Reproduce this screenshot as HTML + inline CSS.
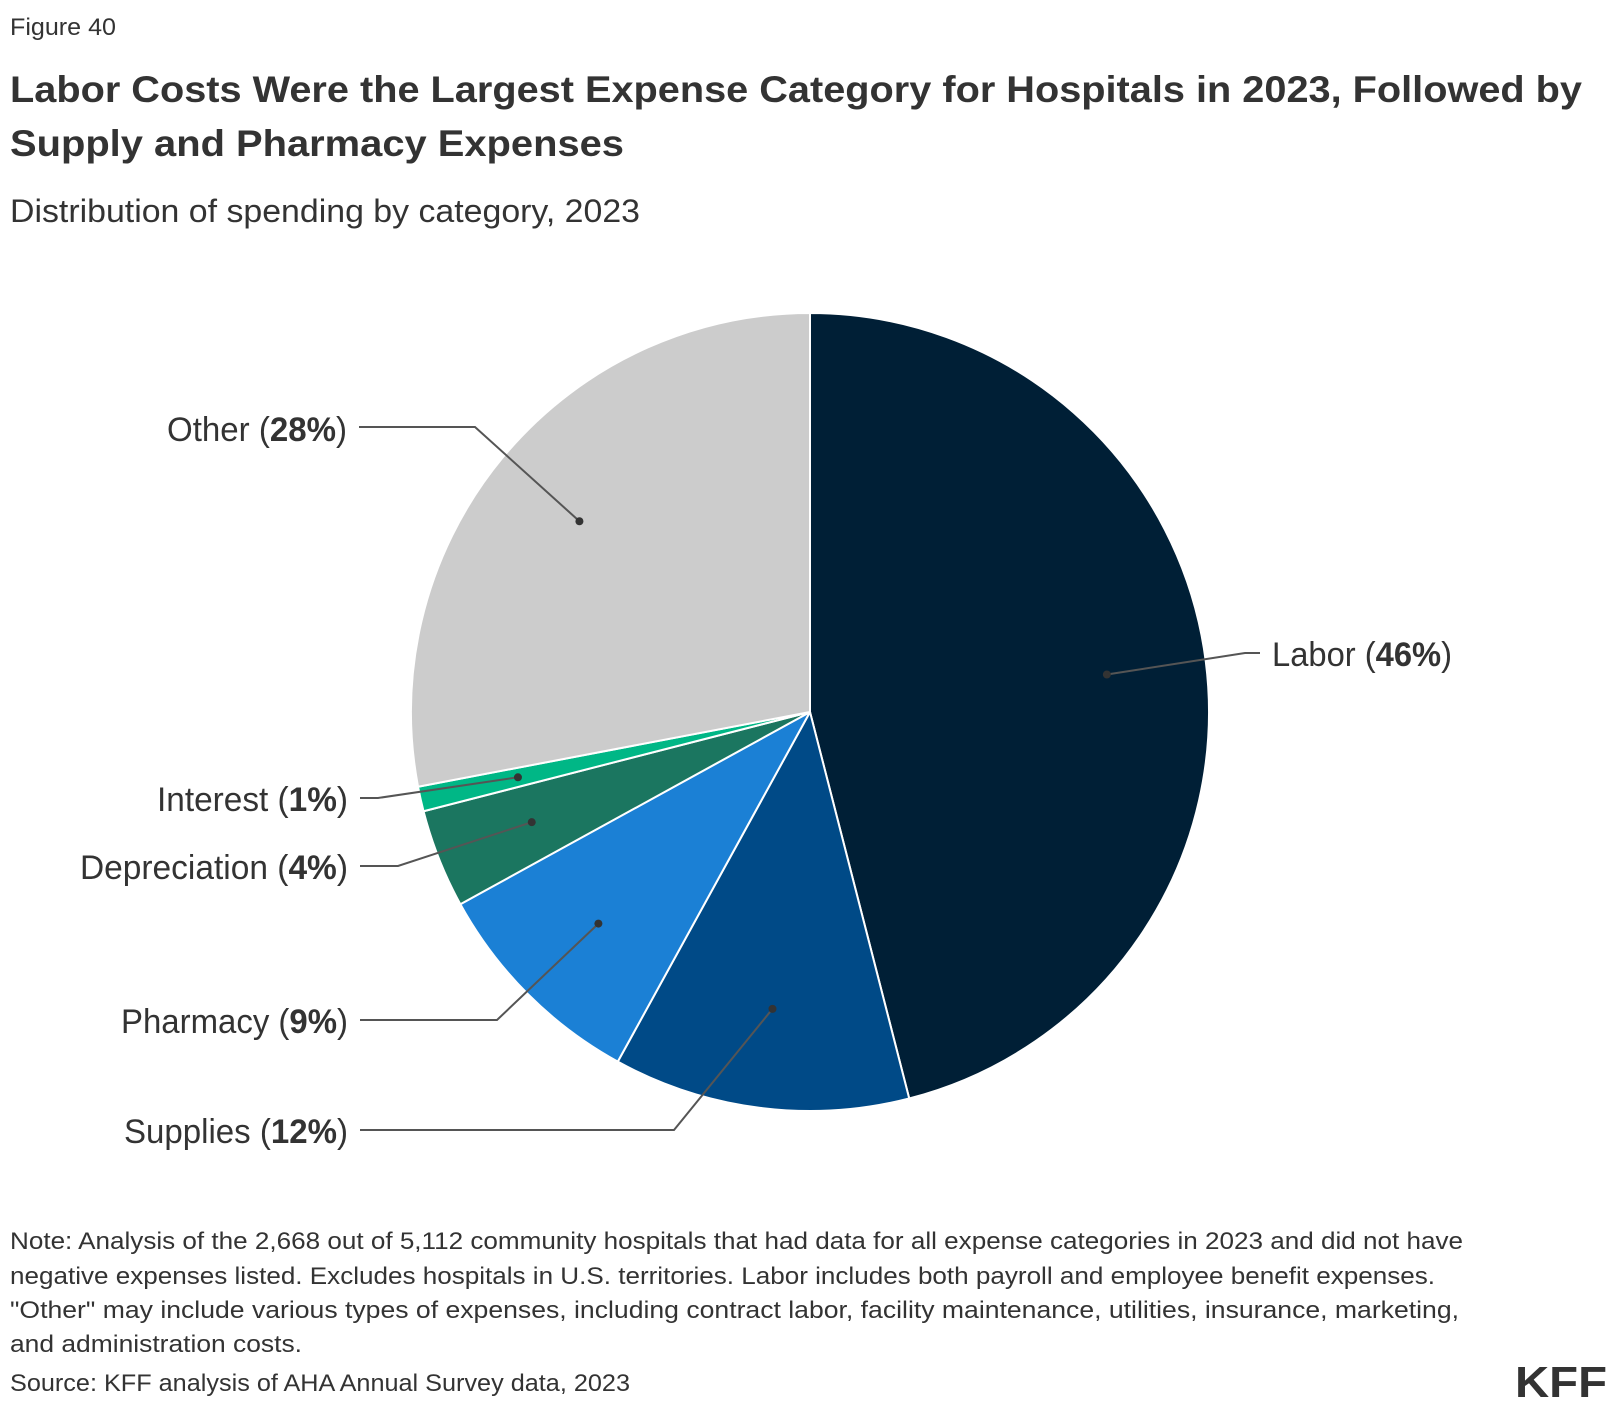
<!DOCTYPE html>
<html><head><meta charset="utf-8"><style>
html,body{margin:0;padding:0;background:#fff;}
svg{display:block;}
text{font-family:"Liberation Sans",sans-serif;fill:#333;}
</style></head><body>
<svg id="chart" width="1620" height="1412" viewBox="0 0 1620 1412" xmlns="http://www.w3.org/2000/svg">
<text x="10" y="35" font-size="24" textLength="106" lengthAdjust="spacingAndGlyphs">Figure 40</text>
<text x="10" y="102" font-size="37" font-weight="bold" fill="#333" textLength="1572" lengthAdjust="spacingAndGlyphs">Labor Costs Were the Largest Expense Category for Hospitals in 2023, Followed by</text>
<text x="10" y="156" font-size="37" font-weight="bold" textLength="614" lengthAdjust="spacingAndGlyphs">Supply and Pharmacy Expenses</text>
<text x="10" y="222" font-size="32" textLength="630" lengthAdjust="spacingAndGlyphs">Distribution of spending by category, 2023</text>
<g id="slices"></g>
<g id="leaders"></g>
<g id="labels"></g>
<text x="10" y="1249" font-size="24" textLength="1453" lengthAdjust="spacingAndGlyphs">Note: Analysis of the 2,668 out of 5,112 community hospitals that had data for all expense categories in 2023 and did not have</text>
<text x="10" y="1284" font-size="24" textLength="1425" lengthAdjust="spacingAndGlyphs">negative expenses listed. Excludes hospitals in U.S. territories. Labor includes both payroll and employee benefit expenses.</text>
<text x="10" y="1318" font-size="24" textLength="1449" lengthAdjust="spacingAndGlyphs">"Other" may include various types of expenses, including contract labor, facility maintenance, utilities, insurance, marketing,</text>
<text x="10" y="1352" font-size="24" textLength="292" lengthAdjust="spacingAndGlyphs">and administration costs.</text>
<text x="10" y="1391" font-size="24" textLength="620" lengthAdjust="spacingAndGlyphs">Source: KFF analysis of AHA Annual Survey data, 2023</text>
<text x="1515" y="1397" font-size="44" font-weight="bold" fill="#222" textLength="92" lengthAdjust="spacingAndGlyphs">KFF</text>
</svg>
<script>
const categories = ["Labor","Supplies","Pharmacy","Depreciation","Interest","Other"];
const values = [46,12,9,4,1,28];
const colors = ["#001f36","#004a87","#1b80d5","#1b7660","#00b786","#cccccc"];
// layout: label anchor positions (pixels)
const layout = {
 Labor:{tx:1272,ty:666,w:180,side:1,lx0:1260,ex:1245,ey:653},
 Supplies:{tx:348,ty:1143,w:224,side:-1,ey:1130,ex:674},
 Pharmacy:{tx:348,ty:1033,w:227,side:-1,ey:1020,ex:497},
 Depreciation:{tx:348,ty:879,w:268,side:-1,ey:866,ex:398},
 Interest:{tx:348,ty:811,w:191,side:-1,ey:798,ex:378},
 Other:{tx:347,ty:441,w:180,side:-1,ey:427,ex:475}
};
const NS="http://www.w3.org/2000/svg";
const cx=810, cy=712, R=399;
const total = values.reduce((a,b)=>a+b,0);
function angleScale(v){return v/total*2*Math.PI;}
function pt(a,r){return [cx+r*Math.sin(a), cy-r*Math.cos(a)];}
const gS=document.getElementById('slices'), gL=document.getElementById('leaders'), gT=document.getElementById('labels');
let acc=0;
categories.forEach((c,i)=>{
  const a0=angleScale(acc), a1=angleScale(acc+values[i]); acc+=values[i];
  const p0=pt(a0,R), p1=pt(a1,R);
  const large=(a1-a0)>Math.PI?1:0;
  const path=document.createElementNS(NS,'path');
  path.setAttribute('d',`M${cx},${cy}L${p0[0]},${p0[1]}A${R},${R} 0 ${large} 1 ${p1[0]},${p1[1]}Z`);
  path.setAttribute('fill',colors[i]);
  path.setAttribute('stroke','#fff');
  path.setAttribute('stroke-width','2');
  path.setAttribute('stroke-linejoin','round');
  
  
  gS.appendChild(path);
  const d=pt((a0+a1)/2,R*0.75);
  const L=layout[c];
  const lx0 = L.side>0 ? L.lx0 : L.tx+12;
  const line=document.createElementNS(NS,'polyline');
  line.setAttribute('points',`${lx0},${L.ey} ${L.ex},${L.ey} ${d[0]},${d[1]}`);
  line.setAttribute('fill','none');
  line.setAttribute('stroke','#555');
  line.setAttribute('stroke-width','2');
  
  
  gL.appendChild(line);
  const dot=document.createElementNS(NS,'circle');
  dot.setAttribute('cx',d[0]); dot.setAttribute('cy',d[1]); dot.setAttribute('r','4');
  dot.setAttribute('fill','#333');
  
  
  gL.appendChild(dot);
  const t=document.createElementNS(NS,'text');
  t.setAttribute('x',L.tx); t.setAttribute('y',L.ty);
  t.setAttribute('font-size','34');
  t.setAttribute('text-anchor',L.side>0?'start':'end');
  t.setAttribute('textLength',L.w);
  t.setAttribute('lengthAdjust','spacingAndGlyphs');
  
  
  t.appendChild(document.createTextNode(c+' ('));
  const b=document.createElementNS(NS,'tspan');
  b.setAttribute('font-weight','bold');
  b.textContent=values[i]+'%';
  t.appendChild(b);
  t.appendChild(document.createTextNode(')'));
  gT.appendChild(t);
});
</script>
</body></html>
